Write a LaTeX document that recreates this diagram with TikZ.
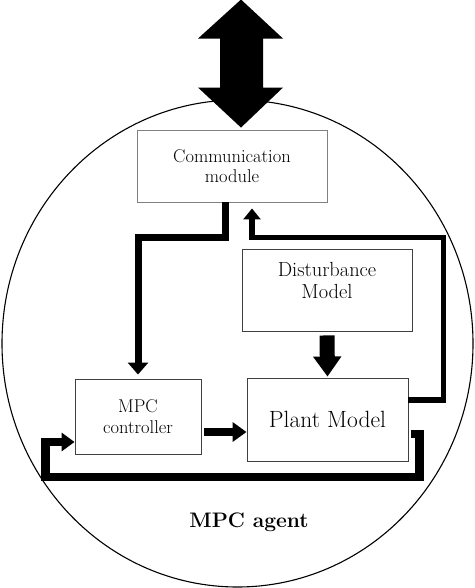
\documentclass[tikz,border=0pt]{standalone}
\usetikzlibrary{arrows.meta}
\begin{document}
\begin{tikzpicture}[x=1pt,y=-1pt,
  box/.style={draw=black!75,line width=0.9pt,rectangle,inner sep=0pt,align=center},
  conn/.style={line join=miter,line cap=butt}]
\useasboundingbox (0,0) rectangle (474,588);
% agent boundary
\draw[line width=1.1pt] (237.5,343.5) ellipse [x radius=235.5, y radius=243.5];
% boxes
\node[box,draw=black!50,minimum width=190pt,minimum height=72pt,
      font=\fontsize{18.5}{20.5}\selectfont] (comm) at (232,166) {Communication\\module};
\node[box,minimum width=170pt,minimum height=82pt,
      font=\fontsize{20.4}{22}\selectfont] (dist) at (327,290) {Disturbance\\Model\\[-2pt]\mbox{}};
\node[box,minimum width=126pt,minimum height=75pt,
      font=\fontsize{18.5}{20.5}\selectfont] (mpc) at (138,416.5) {MPC\\controller};
\node[box,minimum width=161pt,minimum height=83pt,
      font=\fontsize{23.5}{26}\selectfont] (plant) at (327.5,419.5) {Plant Model};
\node[font=\bfseries\fontsize{21}{25}\selectfont] (agent) at (249,522) {MPC agent};
% big double arrow
\coordinate (bt) at ([xshift=9pt,yshift=2pt]comm.north);
\fill (bt) -- ++(42,-40) -- ++(-20,0) -- ++(0,-49) -- ++(20,0) -- ++(-42,-39)
      -- ++(-43,39) -- ++(22,0) -- ++(0,49) -- ++(-22,0) -- cycle;
% comm -> mpc
\draw[conn,line width=7pt,-{Triangle[length=12pt,width=20pt]}]
  ([xshift=-7pt]comm.south) -- ++(0,35) -| ([yshift=4pt]mpc.north);
% plant -> comm
\draw[conn,line width=5.5pt,-{Triangle[length=11pt,width=17pt]}]
  ([yshift=19.5pt]plant.east) -- ++(35,0) |- ([xshift=20pt,yshift=-35pt]comm.south)
  -- ([xshift=20pt,yshift=-6pt]comm.south);
% disturbance -> plant
\draw[conn,line width=15pt,-{Triangle[length=20pt,width=27pt]}]
  ([yshift=-4pt]dist.south) -- ([yshift=1pt]plant.north);
% mpc -> plant
\coordinate (m1) at ([xshift=3pt,yshift=-15.5pt]mpc.east);
\draw[conn,line width=8pt,-{Triangle[length=14pt,width=19pt]}]
  (m1) -- (m1 -| plant.west);
% feedback plant -> mpc
\coordinate (f1) at ([xshift=3pt,yshift=-14.5pt]plant.east);
\coordinate (f2) at ([yshift=-25.5pt]mpc.west);
\draw[conn,line width=8.5pt,-{Triangle[length=13pt,width=18pt]}]
  (f1) -- ++(8,0) |- ([xshift=-29pt,yshift=-35pt]f2) |- (f2);
\end{tikzpicture}
\end{document}
